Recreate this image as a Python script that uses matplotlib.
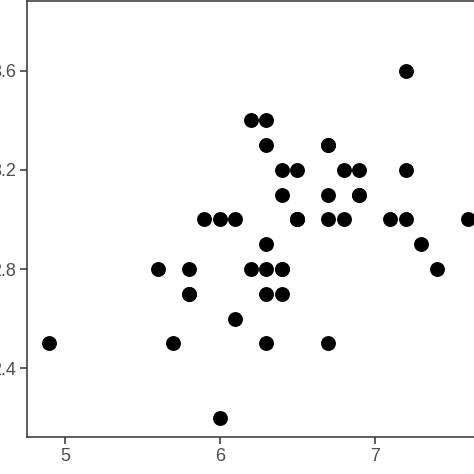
import matplotlib
matplotlib.use("Agg")
import matplotlib.pyplot as plt

# iris virginica: sepal length vs sepal width
sepal_length = [6.3, 5.8, 7.1, 6.3, 6.5, 7.6, 4.9, 7.3, 6.7, 7.2, 6.5, 6.4, 6.8, 5.7, 5.8,
                6.4, 6.5, 7.7, 7.7, 6.0, 6.9, 5.6, 7.7, 6.3, 6.7, 7.2, 6.2, 6.1, 6.4, 7.2,
                7.4, 7.9, 6.4, 6.3, 6.1, 7.7, 6.3, 6.4, 6.0, 6.9, 6.7, 6.9, 5.8, 6.8, 6.7,
                6.7, 6.3, 6.5, 6.2, 5.9]
sepal_width = [3.3, 2.7, 3.0, 2.9, 3.0, 3.0, 2.5, 2.9, 2.5, 3.6, 3.2, 2.7, 3.0, 2.5, 2.8,
               3.2, 3.0, 3.8, 2.6, 2.2, 3.2, 2.8, 2.8, 2.7, 3.3, 3.2, 2.8, 3.0, 2.8, 3.0,
               2.8, 3.8, 2.8, 2.8, 2.6, 3.0, 3.4, 3.1, 3.0, 3.1, 3.1, 3.1, 2.7, 3.2, 3.3,
               3.0, 2.5, 3.0, 3.4, 3.0]
x_ticks = [5, 6, 7]
y_ticks = [2.4, 2.8, 3.2, 3.6]

plt.rcParams["font.family"] = ["Liberation Sans", "DejaVu Sans"]

fig = plt.figure(figsize=(4.74, 4.74), dpi=100)
ax = fig.add_axes([27 / 474, 37 / 474, 1 - 27 / 474, 1 - 37 / 474 - 1 / 474])

ax.scatter(sepal_length, sepal_width, s=115, color="black", linewidths=0, zorder=3)

# the original panel is cropped on the right
ax.set_xlim(4.755, 7.64)
ax.set_ylim(2.122, 3.882)
ax.set_xticks(x_ticks)
ax.set_xticklabels([str(v) for v in x_ticks])
ax.set_yticks(y_ticks)
ax.set_yticklabels([f"{v:.1f}" for v in y_ticks])

for side in ["left", "bottom", "top"]:
    ax.spines[side].set_color("#333333")
    ax.spines[side].set_linewidth(1.1)
ax.spines["right"].set_visible(False)

ax.tick_params(axis="both", colors="#333333", width=1.1, length=5,
               labelsize=13, labelcolor="#4D4D4D", pad=3)

fig.savefig("out.png", dpi=100)
